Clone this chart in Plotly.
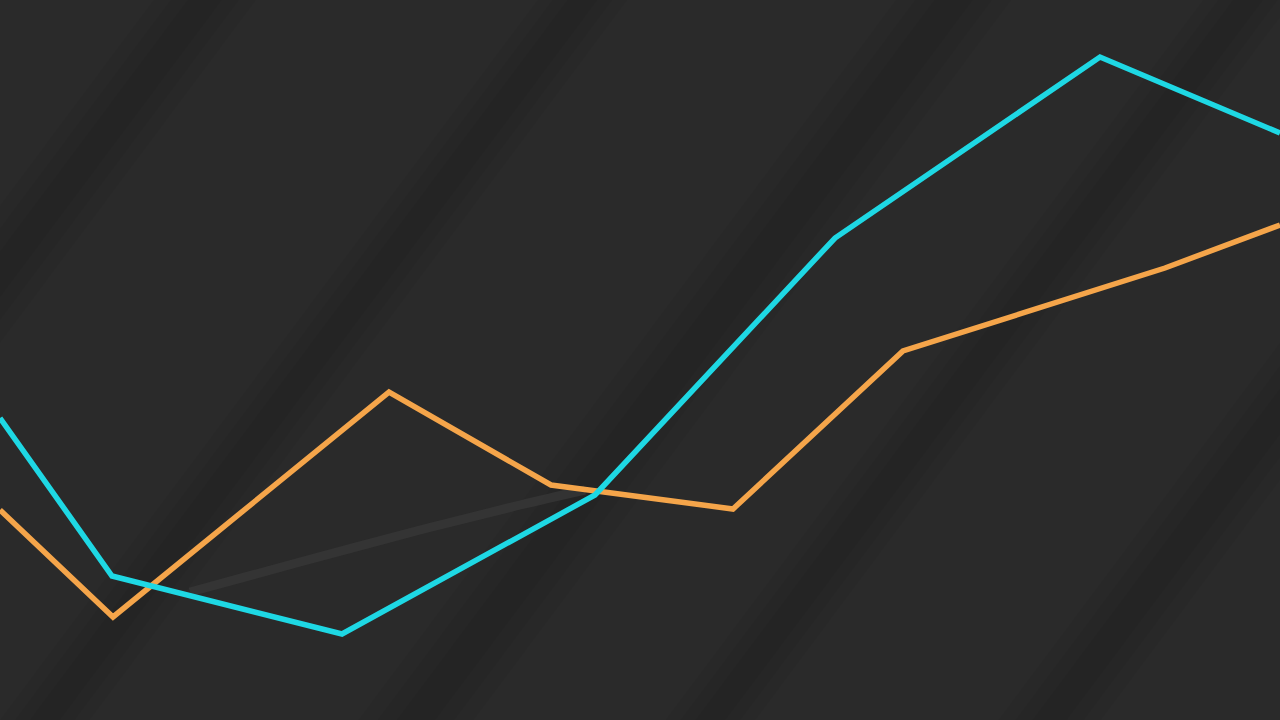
import plotly.graph_objects as go

# values (x across, y up from the bottom)
cyan_x = [0, 112, 342, 595, 835, 1100, 1280]
cyan_y = [302, 144, 86, 225, 482, 663, 587]

orange_x = [0, 113, 389, 551, 733, 903, 1165, 1280]
orange_y = [210, 103, 328, 235, 211, 369, 452, 495]

# faint shadow curve behind the lines
shadow_x = [190, 300, 420, 520, 585]
shadow_y = [128, 158, 190, 215, 230]

bgcolour = "#2a2a2a"
cyan = "#1ed8e4"
orange = "#f5a54a"

fig = go.Figure()

fig.add_trace(go.Scatter(x=shadow_x, y=shadow_y, mode="lines", line_shape="spline",
                         line=dict(color="rgba(54,54,54,0.85)", width=9), hoverinfo="skip"))
fig.add_trace(go.Scatter(x=orange_x, y=orange_y, mode="lines",
                         line=dict(color=orange, width=5.5)))
fig.add_trace(go.Scatter(x=cyan_x, y=cyan_y, mode="lines",
                         line=dict(color=cyan, width=5.5)))

# soft diagonal bands in the background (stacked thin layers for soft edges)
bands = [(-0.3, 0.08), (0.0, 0.07), (0.28, 0.09), (0.52, 0.07), (0.78, 0.08)]
for start, w in bands:
    for k in range(3):
        s = start + k * w / 6
        e = start + w - k * w / 6
        fig.add_shape(type="path", xref="paper", yref="paper", layer="below",
                      path=f"M {s},0 L {e},0 L {e + 0.42},1 L {s + 0.42},1 Z",
                      fillcolor="rgba(0,0,0,0.035)", line_width=0)

fig.update_layout(width=1280, height=720, showlegend=False,
                  margin=dict(l=0, r=0, t=0, b=0),
                  plot_bgcolor=bgcolour, paper_bgcolor=bgcolour)
fig.update_xaxes(range=[0, 1280], visible=False, showgrid=False, zeroline=False)
fig.update_yaxes(range=[0, 720], visible=False, showgrid=False, zeroline=False)

fig.write_html("out.html", config=dict(displayModeBar=False),
               post_script="document.body.style.margin='0';document.body.style.overflow='hidden';")
